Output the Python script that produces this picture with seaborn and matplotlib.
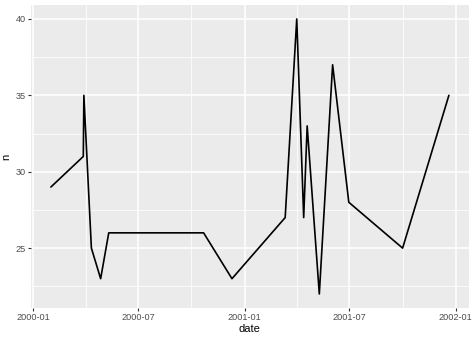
import matplotlib
matplotlib.use("Agg")
import matplotlib.pyplot as plt
import matplotlib.dates as mdates
import seaborn as sns
import pandas as pd
import numpy as np

dates = ["2000-02-01", "2000-03-28", "2000-03-29", "2000-04-11", "2000-04-27",
         "2000-05-11", "2000-10-22", "2000-12-10", "2001-03-12", "2001-04-01",
         "2001-04-13", "2001-04-19", "2001-05-10", "2001-06-02", "2001-06-30",
         "2001-10-01", "2001-12-20"]
n_values = [29, 31, 35, 25, 23, 26, 26, 23, 27, 40, 27, 33, 22, 37, 28, 25, 35]
x_tick_labels = ["2000-01", "2000-07", "2001-01", "2001-07", "2002-01"]
y_ticks = [25, 30, 35, 40]

df = pd.DataFrame({"date": pd.to_datetime(dates), "n": n_values})

sns.set_theme(style="darkgrid")
plt.rcParams["font.family"] = ["Liberation Sans", "DejaVu Sans"]

fig = plt.figure(figsize=(4.74, 3.38), dpi=100)
ax = fig.add_axes([0.0654, 0.0896, 0.989 - 0.0654, 0.9846 - 0.0896])
ax.set_facecolor("#EBEBEB")

sns.lineplot(data=df, x="date", y="n", color="black", linewidth=1.2, ax=ax)

# limits with ggplot-like 5% expansion
xnum = mdates.date2num(df["date"])
xr = xnum.max() - xnum.min()
ax.set_xlim(xnum.min() - 0.05 * xr, xnum.max() + 0.05 * xr)
yr = max(n_values) - min(n_values)
ax.set_ylim(min(n_values) - 0.05 * yr, max(n_values) + 0.05 * yr)

major_x = mdates.date2num(pd.to_datetime([l + "-01" for l in x_tick_labels]))
ax.set_xticks(major_x)
ax.set_xticklabels(x_tick_labels)
minor_x = (major_x[:-1] + major_x[1:]) / 2
ax.set_xticks(minor_x, minor=True)
ax.set_yticks(y_ticks)
ax.set_yticklabels([str(v) for v in y_ticks])
ax.set_yticks([22.5, 27.5, 32.5, 37.5], minor=True)

ax.grid(which="major", color="white", linewidth=1.1)
ax.grid(which="minor", color="white", linewidth=0.55)
ax.set_axisbelow(True)
for s in ax.spines.values():
    s.set_visible(False)

ax.tick_params(axis="both", which="major", length=2.5, width=0.8, color="#333333",
               labelcolor="#4D4D4D", labelsize=6.6, pad=1.5, bottom=True, left=True)
ax.tick_params(axis="both", which="minor", length=0)

ax.set_xlabel("date", fontsize=8.0, color="black", labelpad=1.5)
ax.set_ylabel("n", fontsize=8.0, color="black", labelpad=3)

fig.savefig("out.png", dpi=100)
